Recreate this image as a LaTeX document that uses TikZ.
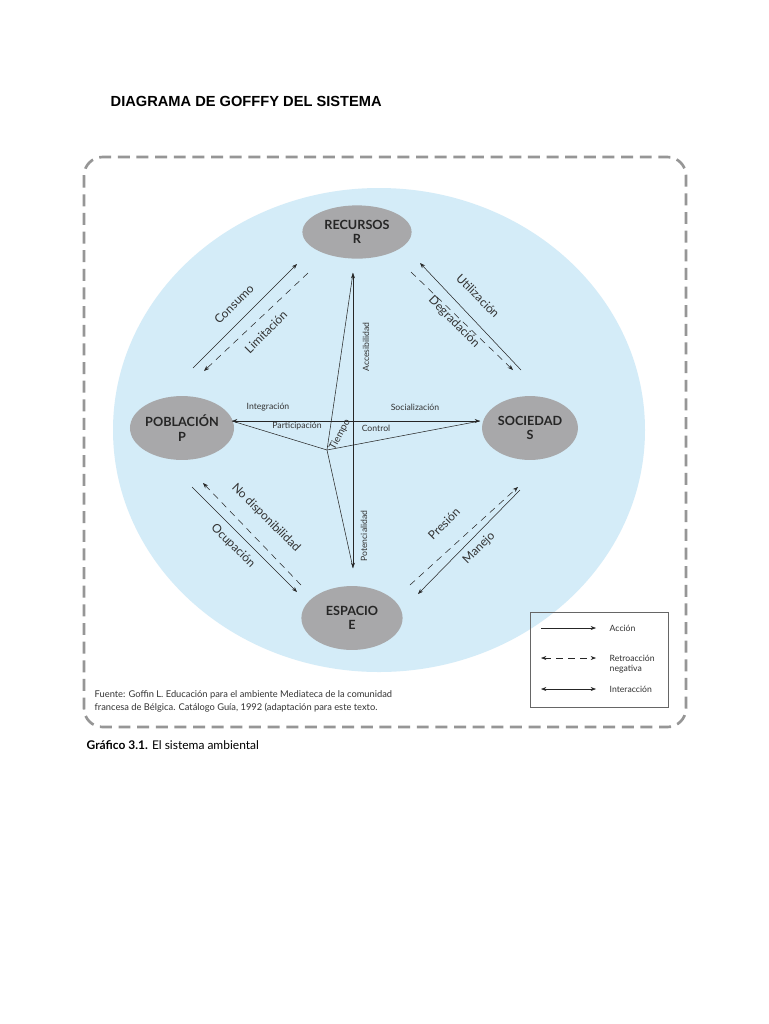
\documentclass[tikz,border=0pt]{standalone}
\usepackage{fontspec}
\setmainfont{Lato}
\newfontfamily\titlefont{Liberation Sans}
\usetikzlibrary{arrows.meta,shapes.geometric}
\definecolor{skyfill}{RGB}{212,236,248}
\definecolor{nodegray}{RGB}{168,168,170}
\definecolor{framegray}{RGB}{150,150,150}
\begin{document}
\begin{tikzpicture}[x=0.0264cm,y=-0.0264cm,
    actor/.style={ellipse,fill=nodegray,minimum width=76pt,minimum height=48pt,align=center,font=\bfseries\fontsize{9.5}{11}\selectfont,text=black!85,inner sep=0pt},
    lab/.style={font=\fontsize{6.5}{8}\selectfont,text=black!80},
    slab/.style={font=\fontsize{9}{10}\selectfont,text=black!80},
    act/.style={draw=black!85,thin,-{Stealth[length=4pt,width=3pt]}},
    neg/.style={draw=black!85,thin,dash pattern=on 5pt off 4pt,-{Stealth[length=4pt,width=3pt]}},
    inter/.style={draw=black!85,thin,{Stealth[length=4pt,width=3pt]}-{Stealth[length=4pt,width=3pt]}}]
   \useasboundingbox[fill=white] (0,0) rectangle (768,1024);
   \node[anchor=west,font=\titlefont\bfseries\fontsize{11}{13}\selectfont] (title) at (106,101) {DIAGRAMA DE GOFFFY DEL SISTEMA};
   % marco y fondo
   \draw[framegray,line width=2pt,dash pattern=on 9pt off 5pt,rounded corners=14] (84,157) rectangle (686,727);
   \fill[skyfill] (379,430) ellipse [x radius=266,y radius=242];
   % componentes
   \node[actor,minimum width=82pt,minimum height=40pt] (R) at (357,232) {RECURSOS\\R};
   \node[actor] (P) at (182,428) {POBLACIÓN\\P};
   \node[actor,minimum width=72pt] (S) at (530,428) {SOCIEDAD\\S};
   \node[actor] (E) at (352,618) {ESPACIO\\E};
   % extremos de las flechas
   \coordinate (rtop) at (353,273);
   \coordinate (ebot) at (353,568);
   \coordinate (pin) at (232,421);
   \coordinate (sin) at (480,421);
   \coordinate (T) at (327,450);
   \coordinate (c1) at (193,368); \coordinate (c2) at (297,264);
   \coordinate (l1) at (308,273); \coordinate (l2) at (204,371);
   \coordinate (u1) at (521,370); \coordinate (u2) at (420,263);
   \coordinate (d1) at (411,272); \coordinate (d2) at (513,370);
   \coordinate (o1) at (192,487); \coordinate (o2) at (297,592);
   \coordinate (n1) at (301,585); \coordinate (n2) at (203,483);
   \coordinate (m1) at (520,490); \coordinate (m2) at (418,594);
   \coordinate (q1) at (410,585); \coordinate (q2) at (518,487);
   % relaciones
   \draw[act] (c1) -- (c2);
   \draw[neg] (l1) -- (l2);
   \draw[act] (u1) -- (u2);
   \draw[neg] (d1) -- (d2);
   \draw[act] (o1) -- (o2);
   \draw[neg] (n1) -- (n2);
   \draw[act] (m1) -- (m2);
   \draw[neg] (q1) -- (q2);
   \node[slab,rotate=45] (consumo) at (234,304) {Consumo};
   \node[slab,rotate=45] (limit) at (266,332) {Limitación};
   \node[slab,rotate=-45] (utiliz) at (478,296) {Utilización};
   \node[slab,rotate=-45] (degrad) at (454,322) {Degradación};
   \node[slab,rotate=-45] (nodisp) at (266,518) {No disponibilidad};
   \node[slab,rotate=-45] (ocup) at (233,546) {Ocupación};
   \node[slab,rotate=45] (presion) at (444,524) {Presión};
   \node[slab,rotate=45] (manejo) at (479,548) {Manejo};
   % centro
   \draw[inter] (rtop) -- (ebot);
   \draw[inter] (pin) -- (sin);
   \draw[black!85,thin] (pin) -- (T) -- (sin);
   \draw[black!85,thin] (rtop) -- (T) -- (ebot);
   \node[lab] (integ) at (268,407) {Integración};
   \node[lab] (social) at (415,407) {Socialización};
   \node[lab] (partic) at (297,426) {Participación};
   \node[lab] (control) at (376,428) {Control};
   \node[lab,rotate=62,font=\fontsize{7.5}{8}\selectfont] (tiempo) at (340,435) {Tiempo};
   \node[lab,rotate=90] (acces) at (366,347) {Accesibilidad};
   \node[lab,rotate=90] (potenc) at (364,536) {Potencialidad};
   % leyenda
   \draw[black!60] (530,612) rectangle (668,707);
   \coordinate (a1) at (541,628); \coordinate (a2) at (596,628);
   \coordinate (b1) at (541,658); \coordinate (b2) at (596,658);
   \coordinate (i1) at (541,689); \coordinate (i2) at (596,689);
   \draw[act] (a1) -- (a2);
   \draw[neg,{Stealth[length=4pt,width=3pt]}-{Stealth[length=4pt,width=3pt]}] (b1) -- (b2);
   \draw[inter] (i1) -- (i2);
   \node[lab,anchor=west] (accion) at (605,628) {Acción};
   \node[lab,anchor=west,align=left] (retro) at (605,664) {Retroacción\\negativa};
   \node[lab,anchor=west] (interac) at (605,689) {Interacción};
   % fuente y pie
   \node[lab,anchor=north west,align=left,font=\fontsize{7}{9.5}\selectfont] (fuente) at (90,686) {Fuente: Goffin L. Educación para el ambiente Mediateca de la comunidad\\francesa de Bélgica. Catálogo Guía, 1992 (adaptación para este texto.};
   \node[anchor=west,font=\fontsize{9}{11}\selectfont] (grafico) at (82,745) {\textbf{Gráfico 3.1.} El sistema ambiental};
\end{tikzpicture}
\end{document}
